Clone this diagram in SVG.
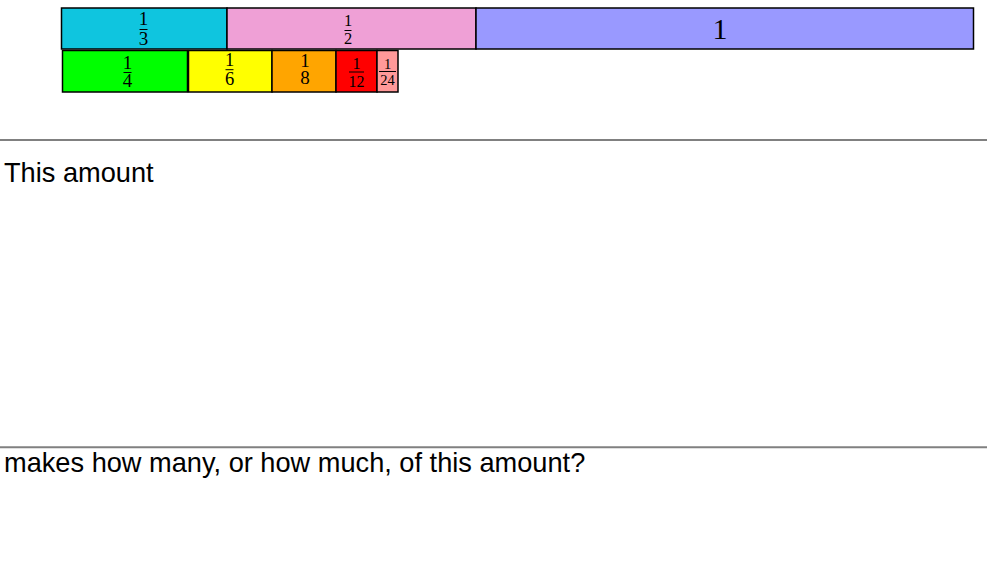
<svg xmlns="http://www.w3.org/2000/svg" width="987" height="586" viewBox="0 0 987 586">
<style>
.box{stroke:#000;stroke-width:1.5}
.fr{font-family:"Liberation Serif","Times New Roman",serif;fill:#000;text-anchor:middle}
.bar{stroke:#000;stroke-width:1}
.rule{stroke:#808080;stroke-width:2}
.lbl{font-family:"Liberation Sans",Arial,sans-serif;font-size:27.2px;fill:#000}
</style>
<rect width="987" height="586" fill="#fff"/>
<g id="third">
<rect class="box" x="61.5" y="8" width="165.5" height="41" fill="#0FC5DF"/>
<text class="fr" x="143.5" y="24.5" font-size="19">1</text>
<line class="bar" x1="139.5" y1="29.5" x2="147.5" y2="29.5"/>
<text class="fr" x="143.5" y="45" font-size="19">3</text>
</g>
<g id="half">
<rect class="box" x="227" y="8" width="249" height="41" fill="#EFA0D6"/>
<text class="fr" x="348" y="26" font-size="16.5">1</text>
<line class="bar" x1="344.5" y1="30.5" x2="351.5" y2="30.5"/>
<text class="fr" x="348" y="44" font-size="16.5">2</text>
</g>
<g id="one">
<rect class="box" x="476" y="8" width="497.5" height="41" fill="#9999FF"/>
<text class="fr" x="720" y="38.5" font-size="30">1</text>
</g>
<g id="quarter">
<rect class="box" x="62.5" y="50.5" width="125" height="41.5" fill="#00FF00"/>
<text class="fr" x="127.5" y="68.5" font-size="19">1</text>
<line class="bar" x1="123.5" y1="72.5" x2="131.5" y2="72.5"/>
<text class="fr" x="127.5" y="87" font-size="19">4</text>
</g>
<g id="sixth">
<rect class="box" x="188.5" y="50.5" width="83.5" height="41.5" fill="#FFFF00"/>
<text class="fr" x="229.5" y="66.3" font-size="18.5">1</text>
<line class="bar" x1="225.5" y1="69.7" x2="233.5" y2="69.7"/>
<text class="fr" x="229.5" y="85.3" font-size="18.5">6</text>
</g>
<g id="eighth">
<rect class="box" x="272" y="50.5" width="64" height="41.5" fill="#FFA500"/>
<text class="fr" x="305" y="67" font-size="19">1</text>
<text class="fr" x="305" y="84" font-size="19">8</text>
</g>
<g id="twelfth">
<rect class="box" x="336" y="50.5" width="41" height="41.5" fill="#FF0000"/>
<text class="fr" x="356.5" y="68.7" font-size="16">1</text>
<line class="bar" x1="349" y1="72" x2="364" y2="72"/>
<text class="fr" x="356.5" y="87" font-size="16">12</text>
</g>
<g id="twentyfourth">
<rect class="box" x="377" y="50.5" width="21" height="41.5" fill="#FF9999"/>
<text class="fr" x="387.5" y="68.7" font-size="14.5">1</text>
<line class="bar" x1="379" y1="71.5" x2="396" y2="71.5"/>
<text class="fr" x="387.5" y="85" font-size="14.5">24</text>
</g>
<g id="connectors">
<line class="rule" x1="0" y1="140" x2="987" y2="140"/>
<line class="rule" x1="0" y1="447.3" x2="987" y2="447.3"/>
</g>
<g id="labels">
<text class="lbl" x="4" y="181.5">This amount</text>
<text class="lbl" x="4" y="472">makes how many, or how much, of this amount?</text>
</g>
</svg>
